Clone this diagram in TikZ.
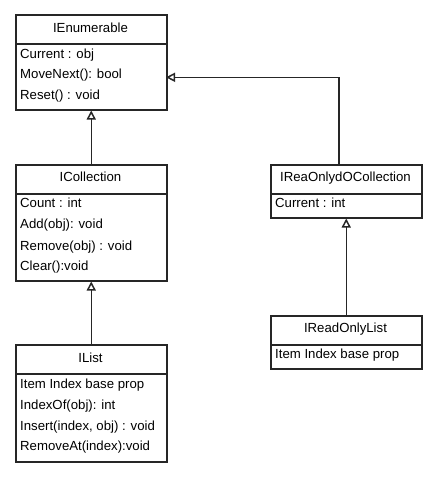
\documentclass[tikz,border=0pt]{standalone}
\usepackage{fontspec}
\setmainfont{Liberation Sans}
\usetikzlibrary{arrows.meta}
\begin{document}
\begin{tikzpicture}[x=1pt,y=-1pt,
  box/.style={draw=black!85,line width=1.5pt,anchor=north west,inner sep=0pt,minimum width=151pt},
  divl/.style={draw=black!85,line width=1.5pt},
  ttl/.style={anchor=base,inner sep=0pt,font=\fontsize{13.2}{15}\selectfont},
  attr/.style={anchor=base west,inner sep=0pt,font=\fontsize{13.2}{15}\selectfont},
  inh/.style={draw=black!85,line width=1.5pt,-{Triangle[open,length=9pt,width=9pt,fill=white]}}]
\useasboundingbox[fill=white] (0,0) rectangle (442,477);
% IEnumerable
\node[box,minimum height=95pt] (enum) at (15,14) {};
\draw[divl] (15,44) -- (166,44);
\node[ttl] (enumt) at (90.5,32.3) {IEnumerable};
\node[attr] (enum1) at (20,58) {Current : obj};
\node[attr] (enum2) at (20,78.7) {MoveNext(): bool};
\node[attr] (enum3) at (20,99) {Reset() : void};
% ICollection
\node[box,minimum height=116pt] (coll) at (15,164) {};
\draw[divl] (15,194) -- (166,194);
\node[ttl] (collt) at (90.5,181.7) {ICollection};
\node[attr] (coll1) at (20,207) {Count : int};
\node[attr] (coll2) at (20,228) {Add(obj): void};
\node[attr] (coll3) at (20,250) {Remove(obj) : void};
\node[attr] (coll4) at (20,270.7) {Clear():void};
% IList
\node[box,minimum height=117pt] (list) at (15,344) {};
\draw[divl] (15,374) -- (166,374);
\node[ttl] (listt) at (90.5,362) {IList};
\node[attr] (list1) at (20,388) {Item Index base prop};
\node[attr] (list2) at (20,409) {IndexOf(obj): int};
\node[attr] (list3) at (20,430) {Insert(index, obj) : void};
\node[attr] (list4) at (20,450.7) {RemoveAt(index):void};
% IReaOnlydOCollection
\node[box,minimum height=53pt] (roc) at (270,164) {};
\draw[divl] (270,194) -- (421,194);
\node[ttl] (roct) at (345.5,181.7) {IReaOnlydOCollection};
\node[attr] (roc1) at (275,207) {Current : int};
% IReadOnlyList
\node[box,minimum height=53pt] (rol) at (270,315) {};
\draw[divl] (270,345) -- (421,345);
\node[ttl] (rolt) at (345.5,332.7) {IReadOnlyList};
\node[attr] (rol1) at (275,358) {Item Index base prop};
% connectors
\coordinate (rocup) at ([xshift=-7.5pt]roc.north);
\coordinate (enumin) at (166,77.3);
\draw[inh] (coll.north) -- (enum.south);
\draw[inh] (list.north) -- (coll.south);
\draw[inh] (rol.north) -- (roc.south);
\draw[inh] (rocup) |- (enumin);
\end{tikzpicture}
\end{document}
